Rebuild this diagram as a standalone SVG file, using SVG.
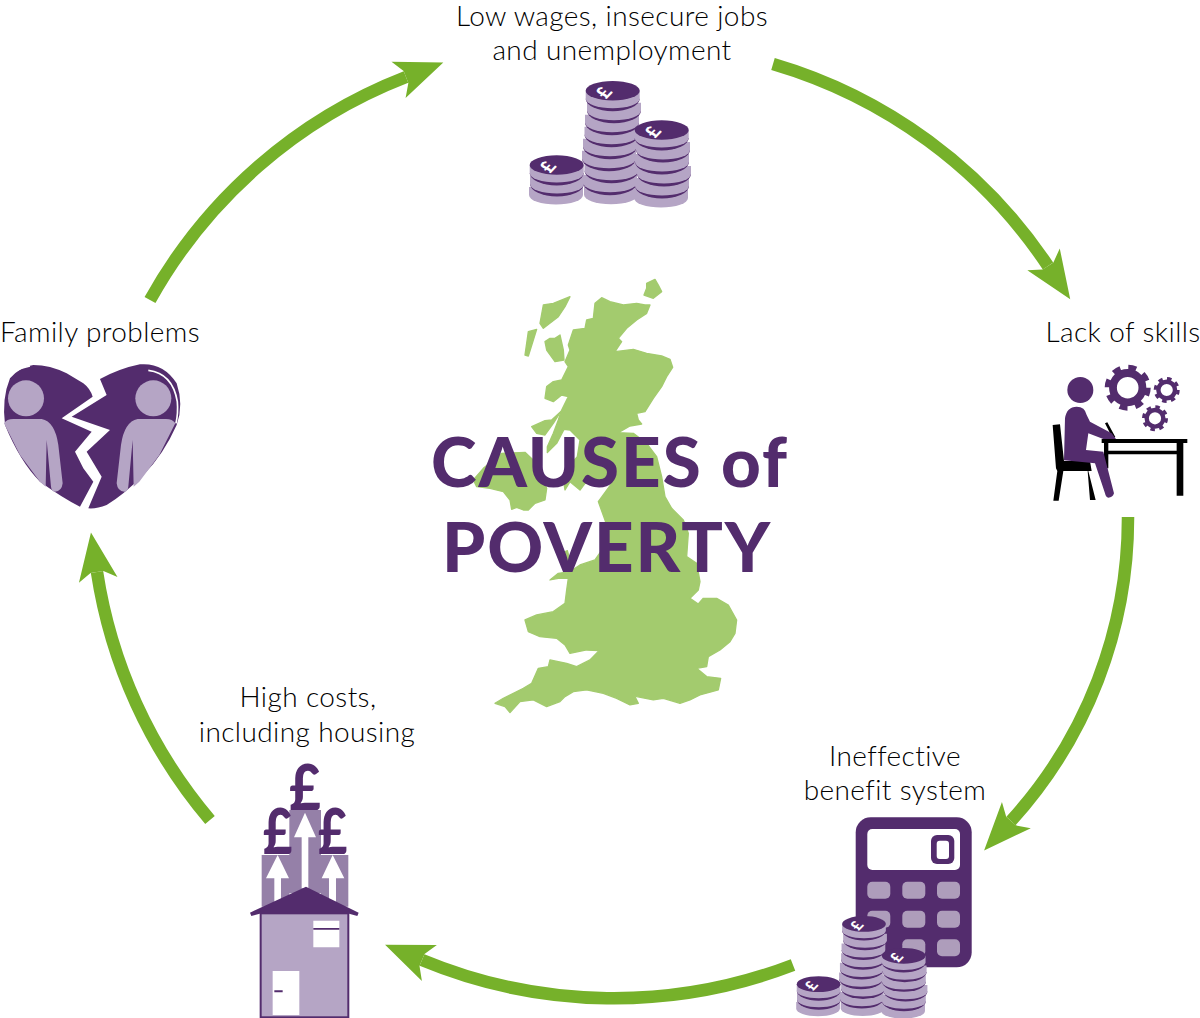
<svg xmlns="http://www.w3.org/2000/svg" xmlns:xlink="http://www.w3.org/1999/xlink" width="1200" height="1018" viewBox="0 0 1200 1018">
<style>
.lb{font-family:Lato,"Open Sans",sans-serif;font-size:28px;font-weight:300;letter-spacing:.4px;fill:#000;text-anchor:middle}
.ttl{font-family:Lato,"Open Sans",sans-serif;font-size:69px;font-weight:900;letter-spacing:2px;fill:#532C6D}
.pd{font-family:Lato,"Liberation Sans",sans-serif;font-weight:900;font-size:63px;fill:#532C6D;text-anchor:middle}
.cp{font-family:Lato,"Liberation Sans",sans-serif;font-weight:900;font-size:21px;fill:#fff;text-anchor:middle}
.arr{fill:none;stroke:#76B12A;stroke-width:12.5}
.dk{fill:#532C6D}.lt{fill:#B5A5C5}.md{fill:#9580A8}.wh{fill:#fff}.bk{fill:#000}.btn{fill:#AE9DBB}
</style>
<defs>
<marker id="head" markerUnits="userSpaceOnUse" viewBox="-10 -25 60 50" refX="0" refY="0" markerWidth="60" markerHeight="50" orient="auto">
<path d="M40 0L-8 -19.5L0 -6.5V6.5L-8 19.5Z" fill="#76B12A"/>
</marker>
<g id="coinb"><path class="lt" d="M-27 0v8a27 9.5 0 0 0 54 0v-8z"/></g>
<g id="coin"><path class="dk" d="M-27 8a27 12.5 0 0 0 54 0z"/><use xlink:href="#coinb"/></g>
<g id="ctop"><use xlink:href="#coin"/><ellipse class="dk" cx="0" cy="0" rx="27" ry="9.7"/><text class="cp" transform="translate(-3,5) scale(1,.72) rotate(-55)">£</text></g>
<g id="coins">
<use xlink:href="#coinb" x="611" y="186.7"/><use xlink:href="#coin" x="610" y="174.7"/><use xlink:href="#coin" x="611.5" y="162.7"/><use xlink:href="#coin" x="609" y="150.7"/><use xlink:href="#coin" x="610" y="138.7"/><use xlink:href="#coin" x="611.5" y="126.7"/><use xlink:href="#coin" x="612" y="114.7"/><use xlink:href="#coin" x="614" y="102.7"/><use xlink:href="#ctop" x="612.7" y="90.7"/>
<use xlink:href="#coinb" x="661" y="190"/><use xlink:href="#coin" x="662" y="178"/><use xlink:href="#coin" x="664" y="166"/><use xlink:href="#coin" x="662" y="154"/><use xlink:href="#coin" x="663" y="142"/><use xlink:href="#ctop" x="661.7" y="130"/>
<use xlink:href="#coinb" x="556" y="187"/><use xlink:href="#coin" x="557" y="176"/><use xlink:href="#ctop" x="556.7" y="165"/>
</g>
<g id="gear"><circle cx="0" cy="0" r=".64" fill="none" stroke="#532C6D" stroke-width=".34"/><circle cx="0" cy="0" r=".88" fill="none" stroke="#532C6D" stroke-width=".24" stroke-dasharray=".3456 .3456"/></g>
</defs>

<g id="map" fill="#A3CB6E" stroke="#A3CB6E" stroke-width="4" stroke-linejoin="round" transform="translate(490,270) scale(.3333)">
<path d="M335 83L360 95L400 105L440 100L465 105L480 105L470 130L440 150L410 175L385 205L395 215L375 245L430 238L470 250L515 258L540 268L548 292L530 320L515 350L490 385L465 425L440 430L445 450L455 462L420 468L385 488L430 490L470 520L500 560L515 620L525 680L545 715L580 750L595 790L590 860L620 880L630 935L625 960L600 985L625 1002L640 985L680 985L715 1005L740 1050L735 1090L720 1115L690 1140L655 1160L650 1190L620 1195L650 1220L692 1225L685 1260L630 1275L600 1290L570 1300L520 1285L490 1290L440 1280L430 1270L445 1300L420 1305L380 1285L340 1270L290 1260L250 1265L225 1280L210 1295L170 1310L130 1290L90 1295L60 1328L45 1310L15 1300L40 1285L70 1270L100 1255L125 1240L145 1195L175 1190L180 1170L230 1180L260 1190L300 1170L327 1142L290 1140L240 1150L225 1125L200 1105L150 1100L115 1085L105 1050L140 1035L190 1025L225 1000L230 960L235 925L205 925L180 930L205 910L240 905L270 885L315 870L350 820L358 790L345 750L325 695L365 640L285 640L270 660L240 635L225 660L222 640L235 590L262 560L270 510L240 480L222 478L200 520L172 548L172 530L190 490L205 450L213 425L235 380L215 375L190 395L165 385L170 350L190 335L215 330L235 290L225 275L240 240L235 225L250 180L285 175L290 150L310 145L315 100Z"/>
<path d="M-20 595L35 550L105 547L135 575L170 655L165 690L135 700L115 720L100 720L80 712L65 718L60 690L40 665L0 655L-40 650L-50 630Z"/>
<path d="M240 80L225 110L205 140L160 175L150 160L160 105L190 100Z"/>
<path d="M115 185L140 178L130 210L115 258L105 255Z"/>
<path d="M165 215L180 205L195 205L210 195L220 240L222 270L195 275L170 240Z"/>
<path d="M470 40L495 28L505 45L515 65L490 85L462 75L470 55Z"/>
<path d="M125 470L165 452L185 450L212 425L190 460L165 495L140 490Z"/>
<path d="M215 850L232 842L240 870L222 875Z"/>
</g>

<g id="title">
<text class="ttl" x="431" y="487">CAUSES of</text>
<text class="ttl" x="442" y="572">POVERTY</text>
</g>

<g id="connectors">
<path class="arr" marker-end="url(#head)" d="M150 300A500 500 0 0 1 406 77"/>
<path class="arr" marker-end="url(#head)" d="M773 64A500 500 0 0 1 1048 266"/>
<path class="arr" marker-end="url(#head)" d="M1128 517A450 450 0 0 1 1011 821"/>
<path class="arr" marker-end="url(#head)" d="M793 965A500 500 0 0 1 422 960"/>
<path class="arr" marker-end="url(#head)" d="M210 820A500 500 0 0 1 97 572"/>
</g>

<g id="low-wages">
<text class="lb" x="612" y="26">Low wages, insecure jobs</text>
<text class="lb" x="612" y="60">and unemployment</text>
<use xlink:href="#coins"/>
</g>

<g id="lack-of-skills">
<text class="lb" x="1123" y="342">Lack of skills</text>
<use xlink:href="#gear" transform="translate(1127.7,387.7) scale(23)"/>
<use xlink:href="#gear" transform="translate(1166.7,390) scale(13)"/>
<use xlink:href="#gear" transform="translate(1155,418.3) scale(13)"/>
<g transform="translate(1040,355) scale(.3333)">
<path class="bk" d="M195 205L202 202L226 246L218 250ZM185 252H442V264H205V340H192V264H185ZM205 287H412V298H205ZM410 264H430V422H410ZM38 210L60 208L72 318H150L155 348H145L167 435H150L143 348H70L56 437H40L52 348L48 340Z"/>
<circle class="dk" cx="121" cy="105" r="39"/>
<path class="dk" d="M75 190Q80 155 110 155Q135 155 140 180L150 200L215 235L228 252L190 252L145 235L138 285L190 290L222 415Q218 428 205 428Q198 428 195 415L165 325L72 316Z"/>
</g>
</g>

<g id="family-problems">
<text class="lb" x="100" y="342">Family problems</text>
<g transform="translate(0,355) scale(.3333)">
<path class="dk" d="M100 30Q150 30 200 55L250 85Q270 100 278 125L185 190L275 230L225 290L250 340L280 380L240 455Q190 430 120 380Q60 320 15 210Q5 130 30 70Q60 35 100 30Z"/>
<path class="dk" d="M300 72Q360 40 420 28Q490 22 530 85Q552 150 530 210Q490 300 430 360Q370 420 320 450Q290 462 265 460L305 365L260 290L330 225L215 185L320 120Z"/>
<path d="M18 72Q40 42 90 33" fill="none" stroke="#fff" stroke-width="5"/>
<path d="M445 46Q518 55 532 140Q535 175 528 205" fill="none" stroke="#fff" stroke-width="5"/>
<circle class="lt" cx="78" cy="130" r="54"/>
<circle class="lt" cx="460" cy="130" r="54"/>
<path id="hb" class="lt" d="M12 205Q20 192 40 192L125 192Q165 200 175 270L188 385Q185 410 165 410Q155 410 153 395L140 255L137 395L120 380L60 300Z"/>
<use xlink:href="#hb" transform="translate(538,0) scale(-1,1)"/>
</g>
</g>

<g id="high-costs">
<text class="lb" x="308" y="707">High costs,</text>
<text class="lb" x="307" y="742">including housing</text>
<g transform="translate(240,760) scale(.3333)">
<path class="md" d="M148 150H243V400H148ZM65 285H148V440H65ZM243 285H325V440H243Z"/>
<path class="wh" d="M185 385V232H162L195 158L228 232H205V385ZM103 425V355H78L113 285L147 355H123V425ZM267 425V355H245L278 285L313 355H288V425Z"/>
<rect x="62" y="460" width="263" height="312" fill="#B5A5C5" stroke="#532C6D" stroke-width="6"/>
<path class="dk" d="M30 458L198 380L356 458L352 468L322 460H65L34 468Z"/>
<path class="wh" d="M220 482H298V562H220ZM98 633H178V765H98Z"/>
<path class="dk" d="M220 504H298V509H220ZM103 691H128V697H103Z"/>
</g>
<text class="pd" transform="translate(305,810) scale(.86,1)">£</text>
<text class="pd" transform="translate(277.5,854) scale(.8,1)">£</text>
<text class="pd" transform="translate(332.5,854) scale(.8,1)">£</text>
</g>

<g id="benefit-system">
<text class="lb" x="895" y="766">Ineffective</text>
<text class="lb" x="895" y="800">benefit system</text>
<rect class="dk" x="855.7" y="817.3" width="116" height="150" rx="15"/>
<rect class="wh" x="867.3" y="829" width="92.7" height="41" rx="5"/>
<rect class="dk" x="931" y="835" width="23.3" height="29" rx="6"/>
<rect class="wh" x="936.7" y="840.7" width="12.3" height="18.3" rx="3"/>
<g class="btn">
<rect x="867.3" y="881.7" width="23" height="17" rx="5"/><rect x="902.3" y="881.7" width="23" height="17" rx="5"/><rect x="937" y="881.7" width="23" height="17" rx="5"/>
<rect x="867.3" y="910.7" width="23" height="17" rx="5"/><rect x="902.3" y="910.7" width="23" height="17" rx="5"/><rect x="937" y="910.7" width="23" height="17" rx="5"/>
<rect x="902.3" y="939.3" width="23" height="17" rx="5"/><rect x="937" y="939.3" width="23" height="17" rx="5"/>
</g>
<use xlink:href="#coins" transform="translate(367.7,850.5) scale(.81)"/>
</g>
</svg>
